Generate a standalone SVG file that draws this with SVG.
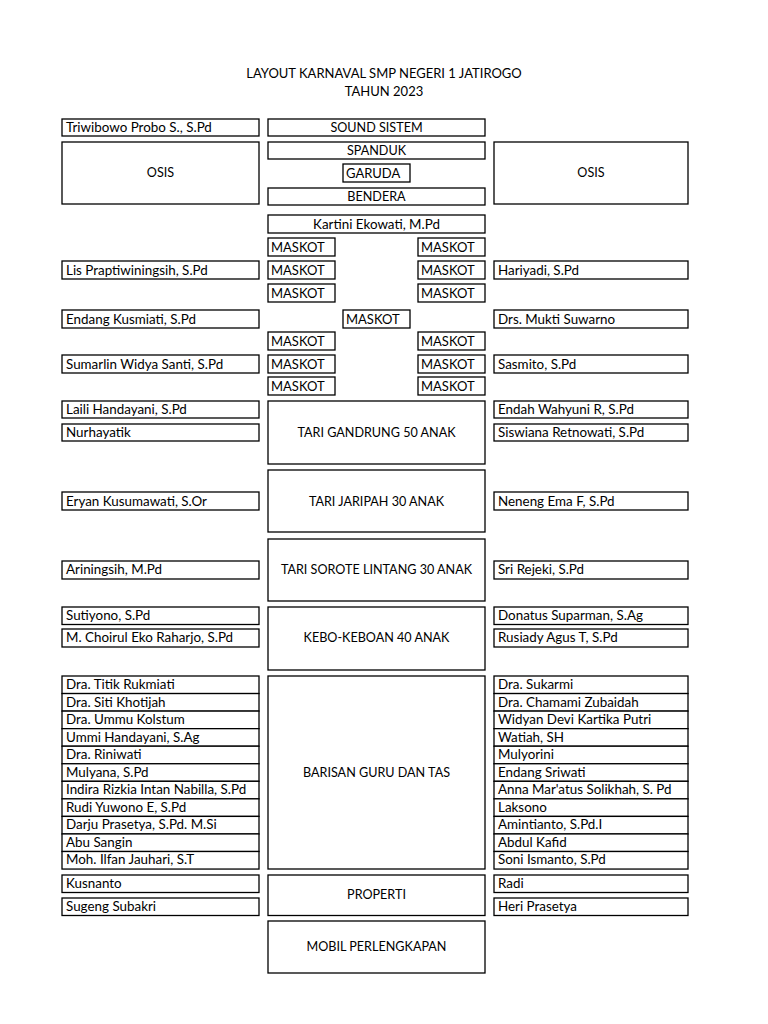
<svg xmlns="http://www.w3.org/2000/svg" width="768" height="1024" viewBox="0 0 768 1024">
<style>
rect{fill:#fff;stroke:#000;stroke-width:1.3}
text{font-family:Lato,"Liberation Sans",sans-serif;font-size:13.4px;fill:#000}
.c{text-anchor:middle}
.k{font-size:12.6px}
.m{font-size:13px}
</style>
<rect x="0" y="0" width="768" height="1024" style="stroke:none"/>
<g id="title">
<text class="c m" x="384" y="78">LAYOUT KARNAVAL SMP NEGERI 1 JATIROGO</text>
<text class="c m" x="384" y="96">TAHUN 2023</text>
</g>
<g id="connectors"/>
<g id="triwibowo"><rect x="62" y="119" width="197" height="17"/><text x="66" y="132">Triwibowo Probo S., S.Pd</text></g>
<g id="sound"><rect x="268" y="119" width="217" height="17"/><text class="c k" x="376.5" y="132">SOUND SISTEM</text></g>
<g id="osis-left"><rect x="62" y="142" width="197" height="62"/><text class="c k" x="160.5" y="177">OSIS</text></g>
<g id="osis-right"><rect x="494" y="142" width="194" height="62"/><text class="c k" x="591" y="177">OSIS</text></g>
<g id="spanduk"><rect x="268" y="142" width="217" height="17"/><text class="c k" x="376.5" y="155">SPANDUK</text></g>
<g id="garuda"><rect x="343" y="164" width="67" height="18"/><text class="m" x="346" y="177.5">GARUDA</text></g>
<g id="bendera"><rect x="268" y="188" width="217" height="17"/><text class="c k" x="376.5" y="201">BENDERA</text></g>
<g id="kartini"><rect x="268" y="215" width="217" height="18"/><text class="c" x="376.5" y="228.5">Kartini Ekowati, M.Pd</text></g>
<g id="maskot-l1"><rect x="268" y="238" width="67" height="18"/><text class="m" x="271" y="251.5">MASKOT</text></g>
<g id="maskot-r1"><rect x="418" y="238" width="67" height="18"/><text class="m" x="421" y="251.5">MASKOT</text></g>
<g id="lis"><rect x="62" y="261" width="197" height="18"/><text x="66" y="274.5">Lis Praptiwiningsih, S.Pd</text></g>
<g id="maskot-l2"><rect x="268" y="261" width="67" height="18"/><text class="m" x="271" y="274.5">MASKOT</text></g>
<g id="maskot-r2"><rect x="418" y="261" width="67" height="18"/><text class="m" x="421" y="274.5">MASKOT</text></g>
<g id="hariyadi"><rect x="494" y="261" width="194" height="18"/><text x="498" y="274.5">Hariyadi, S.Pd</text></g>
<g id="maskot-l3"><rect x="268" y="284" width="67" height="18"/><text class="m" x="271" y="297.5">MASKOT</text></g>
<g id="maskot-r3"><rect x="418" y="284" width="67" height="18"/><text class="m" x="421" y="297.5">MASKOT</text></g>
<g id="endang-k"><rect x="62" y="310" width="197" height="18"/><text x="66" y="323.5">Endang Kusmiati, S.Pd</text></g>
<g id="maskot-c"><rect x="343" y="310" width="67" height="18"/><text class="m" x="346" y="323.5">MASKOT</text></g>
<g id="mukti"><rect x="494" y="310" width="194" height="18"/><text x="498" y="323.5">Drs. Mukti Suwarno</text></g>
<g id="maskot-l4"><rect x="268" y="332" width="67" height="18"/><text class="m" x="271" y="345.5">MASKOT</text></g>
<g id="maskot-r4"><rect x="418" y="332" width="67" height="18"/><text class="m" x="421" y="345.5">MASKOT</text></g>
<g id="sumarlin"><rect x="62" y="355" width="197" height="18"/><text x="66" y="368.5">Sumarlin Widya Santi, S.Pd</text></g>
<g id="maskot-l5"><rect x="268" y="355" width="67" height="18"/><text class="m" x="271" y="368.5">MASKOT</text></g>
<g id="maskot-r5"><rect x="418" y="355" width="67" height="18"/><text class="m" x="421" y="368.5">MASKOT</text></g>
<g id="sasmito"><rect x="494" y="355" width="194" height="18"/><text x="498" y="368.5">Sasmito, S.Pd</text></g>
<g id="maskot-l6"><rect x="268" y="377" width="67" height="18"/><text class="m" x="271" y="390.5">MASKOT</text></g>
<g id="maskot-r6"><rect x="418" y="377" width="67" height="18"/><text class="m" x="421" y="390.5">MASKOT</text></g>
<g id="laili"><rect x="62" y="401" width="197" height="17"/><text x="66" y="414">Laili Handayani, S.Pd</text></g>
<g id="nurhayatik"><rect x="62" y="424" width="197" height="17"/><text x="66" y="437">Nurhayatik</text></g>
<g id="gandrung"><rect x="268" y="401" width="217" height="63"/><text class="c k" x="376.5" y="437">TARI GANDRUNG 50 ANAK</text></g>
<g id="endah"><rect x="494" y="401" width="194" height="17"/><text x="498" y="414">Endah Wahyuni R, S.Pd</text></g>
<g id="siswiana"><rect x="494" y="424" width="194" height="17"/><text x="498" y="437">Siswiana Retnowati, S.Pd</text></g>
<g id="jaripah"><rect x="268" y="470" width="217" height="62"/><text class="c k" x="376.5" y="505.5">TARI JARIPAH 30 ANAK</text></g>
<g id="eryan"><rect x="62" y="492" width="197" height="18"/><text x="66" y="505.5">Eryan Kusumawati, S.Or</text></g>
<g id="neneng"><rect x="494" y="492" width="194" height="18"/><text x="498" y="505.5">Neneng Ema F, S.Pd</text></g>
<g id="sorote"><rect x="268" y="539" width="217" height="62"/><text class="c k" x="376.5" y="574">TARI SOROTE LINTANG 30 ANAK</text></g>
<g id="ariningsih"><rect x="62" y="561" width="197" height="18"/><text x="66" y="574">Ariningsih, M.Pd</text></g>
<g id="sri"><rect x="494" y="561" width="194" height="18"/><text x="498" y="574">Sri Rejeki, S.Pd</text></g>
<g id="kebo"><rect x="268" y="607" width="217" height="63"/><text class="c k" x="376.5" y="642">KEBO-KEBOAN 40 ANAK</text></g>
<g id="sutiyono"><rect x="62" y="607" width="197" height="17.5"/><text x="66" y="620">Sutiyono, S.Pd</text></g>
<g id="choirul"><rect x="62" y="629" width="197" height="18"/><text x="66" y="642">M. Choirul Eko Raharjo, S.Pd</text></g>
<g id="donatus"><rect x="494" y="607" width="194" height="17.5"/><text x="498" y="620">Donatus Suparman, S.Ag</text></g>
<g id="rusiady"><rect x="494" y="629" width="194" height="18"/><text x="498" y="642">Rusiady Agus T, S.Pd</text></g>
<g id="barisan"><rect x="268" y="676" width="217" height="193"/><text class="c k" x="376.5" y="777">BARISAN GURU DAN TAS</text></g>
<g id="guru-left">
<rect x="62" y="676" width="197" height="17.55"/><text x="66" y="689">Dra. Titik Rukmiati</text>
<rect x="62" y="693.55" width="197" height="17.55"/><text x="66" y="706.5">Dra. Siti Khotijah</text>
<rect x="62" y="711.1" width="197" height="17.55"/><text x="66" y="724">Dra. Ummu Kolstum</text>
<rect x="62" y="728.65" width="197" height="17.55"/><text x="66" y="741.6">Ummi Handayani, S.Ag</text>
<rect x="62" y="746.2" width="197" height="17.55"/><text x="66" y="759.1">Dra. Riniwati</text>
<rect x="62" y="763.75" width="197" height="17.55"/><text x="66" y="776.7">Mulyana, S.Pd</text>
<rect x="62" y="781.3" width="197" height="17.55"/><text x="66" y="794.2">Indira Rizkia Intan Nabilla, S.Pd</text>
<rect x="62" y="798.85" width="197" height="17.55"/><text x="66" y="811.8">Rudi Yuwono E, S.Pd</text>
<rect x="62" y="816.4" width="197" height="17.55"/><text x="66" y="829.3">Darju Prasetya, S.Pd. M.Si</text>
<rect x="62" y="833.95" width="197" height="17.55"/><text x="66" y="846.9">Abu Sangin</text>
<rect x="62" y="851.5" width="197" height="17.55"/><text x="66" y="864.4">Moh. Ilfan Jauhari, S.T</text>
</g>
<g id="guru-right">
<rect x="494" y="676" width="194" height="17.55"/><text x="498" y="689">Dra. Sukarmi</text>
<rect x="494" y="693.55" width="194" height="17.55"/><text x="498" y="706.5">Dra. Chamami Zubaidah</text>
<rect x="494" y="711.1" width="194" height="17.55"/><text x="498" y="724">Widyan Devi Kartika Putri</text>
<rect x="494" y="728.65" width="194" height="17.55"/><text x="498" y="741.6">Watiah, SH</text>
<rect x="494" y="746.2" width="194" height="17.55"/><text x="498" y="759.1">Mulyorini</text>
<rect x="494" y="763.75" width="194" height="17.55"/><text x="498" y="776.7">Endang Sriwati</text>
<rect x="494" y="781.3" width="194" height="17.55"/><text x="498" y="794.2">Anna Mar'atus Solikhah, S. Pd</text>
<rect x="494" y="798.85" width="194" height="17.55"/><text x="498" y="811.8">Laksono</text>
<rect x="494" y="816.4" width="194" height="17.55"/><text x="498" y="829.3">Amintianto, S.Pd.I</text>
<rect x="494" y="833.95" width="194" height="17.55"/><text x="498" y="846.9">Abdul Kafid</text>
<rect x="494" y="851.5" width="194" height="17.55"/><text x="498" y="864.4">Soni Ismanto, S.Pd</text>
</g>
<g id="kusnanto"><rect x="62" y="875" width="197" height="17.5"/><text x="66" y="888">Kusnanto</text></g>
<g id="sugeng"><rect x="62" y="898" width="197" height="17.5"/><text x="66" y="911">Sugeng Subakri</text></g>
<g id="properti"><rect x="268" y="875" width="217" height="40.5"/><text class="c k" x="376.5" y="899">PROPERTI</text></g>
<g id="radi"><rect x="494" y="875" width="194" height="17.5"/><text x="498" y="888">Radi</text></g>
<g id="heri"><rect x="494" y="898" width="194" height="17.5"/><text x="498" y="911">Heri Prasetya</text></g>
<g id="mobil"><rect x="268" y="921" width="217" height="52"/><text class="c k" x="376.5" y="951">MOBIL PERLENGKAPAN</text></g>
</svg>
